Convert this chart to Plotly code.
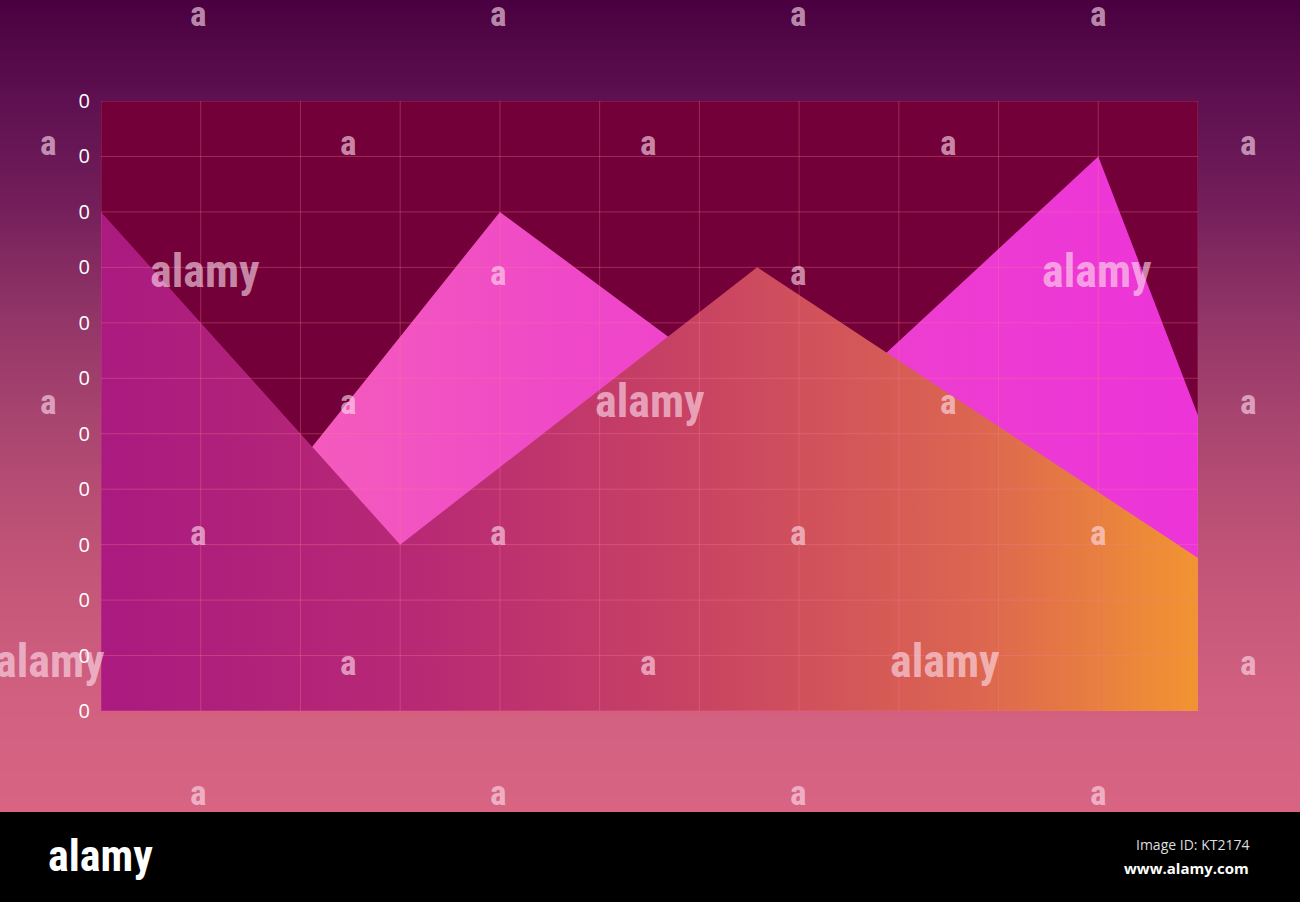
import plotly.graph_objects as go

# ---------------- data ----------------
x_back = [0, 1, 2, 4, 7, 10, 11]
y_back = [2, 3, 4.5, 9, 5, 10, 5.33]
x_front = [0, 3, 6.58, 11]
y_front = [9, 3, 8, 2.76]
y_tickvals = list(range(12))
y_ticktext = ["0"] * 12
x_gridvals = list(range(12))

# ---------------- geometry helpers ----------------
W, H = 1300, 902
L, R, T, B = 101, 102, 101, 191
PW, PH = W - L - R, H - T - B


def pxx(x):
    return (x - L) / PW


def pxy(y):
    return (H - B - y) / PH


fig = go.Figure()

fig.add_trace(go.Scatter(
    x=x_back, y=y_back, mode="lines", line=dict(width=0),
    fill="tozeroy",
    fillgradient=dict(type="horizontal", start=2, stop=11,
                      colorscale=[[0, "#f45cbc"], [0.3, "#ef48c8"], [1, "#ec34d8"]]),
    hoverinfo="skip", showlegend=False,
))
fig.add_trace(go.Scatter(
    x=x_front, y=y_front, mode="lines", line=dict(width=0),
    fill="tozeroy",
    fillgradient=dict(type="horizontal", start=0, stop=11,
                      colorscale=[[0, "#aa1a80"], [0.3, "#b82a74"], [0.55, "#c94462"],
                                  [0.8, "#dc6650"], [1, "#f29432"]]),
    hoverinfo="skip", showlegend=False,
))

shapes = []
# page background gradient
stops = [(0, (74, 0, 64)), (100, (94, 16, 80)), (200, (114, 30, 90)), (300, (142, 50, 102)),
         (400, (164, 66, 110)), (500, (184, 78, 116)), (600, (198, 88, 122)),
         (700, (210, 96, 128)), (812, (216, 100, 130))]


def bgcol(yy):
    for (y0, c0), (y1, c1) in zip(stops[:-1], stops[1:]):
        if y0 <= yy <= y1:
            t = (yy - y0) / (y1 - y0)
            return "rgb(%d,%d,%d)" % tuple(round(a + (b - a) * t) for a, b in zip(c0, c1))
    return "rgb(%d,%d,%d)" % stops[-1][1]


step = 4
for yy in range(0, 812, step):
    shapes.append(dict(type="rect", xref="paper", yref="paper", layer="below",
                       x0=pxx(0), x1=pxx(W), y0=pxy(yy), y1=pxy(min(yy + step + 1, 812)),
                       line=dict(width=0), fillcolor=bgcol(yy + step / 2)))
# plot area background
shapes.append(dict(type="rect", xref="paper", yref="paper", layer="below",
                   x0=0, x1=1, y0=0, y1=1, line=dict(width=0), fillcolor="#730038"))
# footer
shapes.append(dict(type="rect", xref="paper", yref="paper", layer="below",
                   x0=pxx(0), x1=pxx(W), y0=pxy(812), y1=pxy(H),
                   line=dict(width=0), fillcolor="#000000"))
# grid lines above traces
gridc = "rgba(255,120,150,0.33)"
for v in x_gridvals:
    shapes.append(dict(type="line", xref="x", yref="y", layer="above",
                       x0=v, x1=v, y0=0, y1=11, line=dict(color=gridc, width=1)))
for v in y_tickvals:
    shapes.append(dict(type="line", xref="x", yref="y", layer="above",
                       x0=0, x1=11, y0=v, y1=v, line=dict(color=gridc, width=1)))

annotations = []
wm_font = "Roboto Condensed, Roboto, sans-serif"
wm_col = "rgba(255,225,240,0.62)"
rows = [14, 143, 273, 403, 533, 663, 793]
even_x = [198, 498, 798, 1098]
odd_x = [48, 348, 648, 948, 1248]
big = {(2, 198): 205, (2, 1098): 1097, (3, 648): 650, (5, 48): 50, (5, 948): 945}
for i, ry in enumerate(rows):
    xs = even_x if i % 2 == 0 else odd_x
    for xx in xs:
        if (i, xx) in big:
            annotations.append(dict(xref="paper", yref="paper", x=pxx(big[(i, xx)]), y=pxy(ry - 2),
                                    text="<b>alamy</b>", showarrow=False, xanchor="center",
                                    yanchor="middle",
                                    font=dict(family=wm_font, size=46, color=wm_col)))
        else:
            annotations.append(dict(xref="paper", yref="paper", x=pxx(xx), y=pxy(ry),
                                    text="<b>a</b>", showarrow=False, xanchor="center",
                                    yanchor="middle",
                                    font=dict(family=wm_font, size=35, color=wm_col)))

annotations.append(dict(xref="paper", yref="paper", x=pxx(100), y=pxy(856),
                        text="<b>alamy</b>", showarrow=False, xanchor="center", yanchor="middle",
                        font=dict(family=wm_font, size=44, color="#ffffff")))
annotations.append(dict(xref="paper", yref="paper", x=pxx(1251), y=pxy(844),
                        text="Image ID: KT2174", showarrow=False, xanchor="right", yanchor="middle",
                        font=dict(family="Open Sans", size=14, color="#dddddd")))
annotations.append(dict(xref="paper", yref="paper", x=pxx(1251), y=pxy(868),
                        text="<b>www.alamy.com</b>", showarrow=False, xanchor="right",
                        yanchor="middle",
                        font=dict(family="Open Sans", size=15, color="#ffffff")))

fig.update_layout(
    width=W, height=H, autosize=False,
    margin=dict(l=L, r=R, t=T, b=B, pad=0),
    paper_bgcolor="rgba(0,0,0,0)", plot_bgcolor="rgba(0,0,0,0)",
    shapes=shapes, annotations=annotations, showlegend=False,
    xaxis=dict(range=[0, 11], showgrid=False, zeroline=False, showticklabels=False,
               showline=False, ticks="", fixedrange=True),
    yaxis=dict(range=[0, 11], showgrid=False, zeroline=False, showline=False,
               tickmode="array", tickvals=y_tickvals, ticktext=y_ticktext, ticks="",
               ticklabelstandoff=10,
               tickfont=dict(family="Open Sans", size=20, color="#ffffff"), fixedrange=True),
)

fig.write_html("out.html", config={"displayModeBar": False},
               post_script="document.body.style.margin='0';document.body.style.background='#000';")
